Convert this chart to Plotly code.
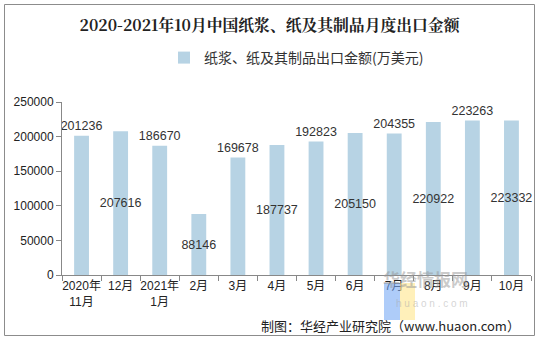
import plotly.graph_objects as go

categories = ["2020年<br>11月", "12月", "2021年<br>1月", "2月", "3月", "4月", "5月", "6月", "7月", "8月", "9月", "10月"]
values = [201236, 207616, 186670, 88146, 169678, 187737, 192823, 205150, 204355, 220922, 223263, 223332]
series_name = "纸浆、纸及其制品出口金额(万美元)"
title_text = "2020-2021年10月中国纸浆、纸及其制品月度出口金额"
source_text = "制图：华经产业研究院（www.huaon.com）"
y_ticks = [0, 50000, 100000, 150000, 200000, 250000]

W, H = 539, 339
L, R, T, B = 62, 8, 102, 64
pw, ph = W - L - R, H - T - B

def px(x):
    return (x - L) / pw

def py(y):
    return (H - B - y) / ph

positions = ["outside" if i % 2 == 0 else "inside" for i in range(len(values))]

fig = go.Figure()
fig.add_trace(go.Bar(
    x=categories, y=values, name=series_name,
    marker=dict(color="#b7d3e4", line=dict(width=0)),
    width=0.38,
    text=[str(v) for v in values],
    textposition=positions,
    textangle=0,
    insidetextanchor="middle",
    constraintext="none",
    cliponaxis=False,
    textfont=dict(size=12.5, color="#333333", family="Liberation Sans, Arial, sans-serif"),
    showlegend=True,
))

font_main = "Liberation Sans, Noto Sans CJK SC, sans-serif"

fig.update_layout(
    width=W, height=H,
    margin=dict(l=L, r=R, t=T, b=B),
    paper_bgcolor="white", plot_bgcolor="white",
    font=dict(family=font_main, size=12, color="#333333"),
    title=dict(text="<b>" + title_text + "</b>", x=0.5, xanchor="center", y=1 - 25 / H, yanchor="middle",
               font=dict(size=15.8, color="#222222", family="Noto Serif CJK SC, Noto Sans CJK SC, serif")),
    legend=dict(orientation="h", x=0.5, xanchor="center", y=py(58), yanchor="middle",
                font=dict(size=14, color="#333333", family="Noto Sans CJK SC, sans-serif"),
                itemwidth=30, bgcolor="rgba(0,0,0,0)"),
    bargap=0.62,
    showlegend=True,
)

fig.update_xaxes(
    type="category", showgrid=False, showline=True, linecolor="#888888", linewidth=1,
    ticks="outside", tickson="boundaries", ticklen=5, tickcolor="#888888", tickangle=0,
    tickfont=dict(size=12, color="#222222", family=font_main),
)
fig.update_yaxes(
    range=[0, 250000], tickvals=y_ticks, ticktext=[str(v) for v in y_ticks],
    showgrid=False, zeroline=False, showline=True, linecolor="#888888", linewidth=1,
    ticks="outside", ticklen=5, tickcolor="#888888",
    tickfont=dict(size=12, color="#222222", family=font_main),
)

# outer frame
fig.add_shape(type="rect", xref="paper", yref="paper",
              x0=px(4.5), x1=px(534.5), y0=py(335.5), y1=py(4.5),
              line=dict(color="#8c8c8c", width=1), fillcolor="rgba(0,0,0,0)", layer="below")

# watermark logo
fig.add_shape(type="rect", xref="paper", yref="paper", x0=px(384), x1=px(400), y0=py(320), y1=py(283),
              line=dict(width=0), fillcolor="rgba(120,170,245,0.6)", layer="above")
fig.add_shape(type="rect", xref="paper", yref="paper", x0=px(400), x1=px(415), y0=py(320), y1=py(283),
              line=dict(width=0), fillcolor="rgba(255,230,140,0.6)", layer="above")
fig.add_annotation(text="<b>华经情报网</b>", xref="paper", yref="paper", x=px(470), y=py(293),
                   showarrow=False, font=dict(size=17, color="rgba(150,150,150,0.5)", family="Noto Sans CJK SC"))
fig.add_annotation(text="h u a o n . c o m", xref="paper", yref="paper", x=px(470), y=py(311),
                   showarrow=False, font=dict(size=10, color="rgba(170,170,170,0.5)", family="Liberation Sans"))

fig.add_annotation(text=source_text, xref="paper", yref="paper", x=px(522), y=py(325),
                   xanchor="right", yanchor="middle", showarrow=False,
                   font=dict(size=13, color="#222222", family="Noto Sans CJK SC, sans-serif"))

fig.write_html("out.html")
